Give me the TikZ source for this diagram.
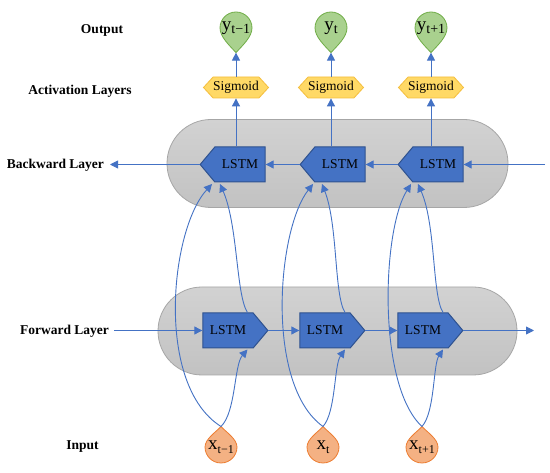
\documentclass[tikz,border=0pt]{standalone}
\usepackage{fontspec}
\setmainfont{Liberation Serif}
\usetikzlibrary{shapes.symbols,arrows.meta,calc}
\definecolor{lblue}{HTML}{4472C4}
\definecolor{dblue}{HTML}{2F528F}
\definecolor{pilltop}{HTML}{D2D2D2}
\definecolor{pillbot}{HTML}{C2C2C2}
\definecolor{pillline}{HTML}{A6A6A6}
\definecolor{sigfill}{HTML}{FFD966}
\definecolor{sigline}{HTML}{F5BE3C}
\definecolor{gfill}{HTML}{A9D18E}
\definecolor{gline}{HTML}{70AD47}
\definecolor{ofill}{HTML}{F4B183}
\definecolor{oline}{HTML}{ED7D31}
\tikzset{
  conn/.style={draw=lblue, line width=0.9pt, -{Triangle[length=8pt,width=8pt]}},
  pill/.style={draw=pillline, top color=pilltop, bottom color=pillbot, rounded corners=44pt,
    minimum width=#1, minimum height=88pt, inner sep=0pt, line width=0.8pt},
  lstmf/.style={signal, signal to=east, signal pointer angle=100, fill=lblue, draw=dblue,
    line width=1pt, minimum width=65pt, minimum height=35pt, inner sep=0pt,
    font=\fontsize{13.5}{14}\selectfont},
  lstmb/.style={lstmf, signal to=west},
  sigbox/.style={signal, signal to=east and west, signal pointer angle=95, fill=sigfill,
    draw=sigline, line width=0.8pt, minimum width=64pt, minimum height=21pt, inner sep=0pt,
    font=\fontsize{13.5}{14}\selectfont},
  lab/.style={font=\bfseries\fontsize{13.5}{14}\selectfont},
  outdrop/.style={fill=gfill, draw=gline, line width=0.8pt},
  indrop/.style={fill=ofill, draw=oline, line width=0.8pt},
  droptext/.style={inner sep=0pt},
}
\newcommand\myoutdrop[1]{\begin{scope}[shift={#1}]
  \path[outdrop] (0,24.6) .. controls (-6,18) and (-16,9) .. (-16,0)
   .. controls (-16,-8.84) and (-8.84,-16) .. (0,-16)
   .. controls (8.84,-16) and (16,-8.84) .. (16,0)
   .. controls (16,9) and (6,18) .. cycle;
  \end{scope}}
\newcommand\myindrop[1]{\begin{scope}[shift={#1}]
  \path[indrop] (0,-20.5) .. controls (-5,-15) and (-16,-8) .. (-16,0)
   .. controls (-16,8.84) and (-8.84,16) .. (0,16)
   .. controls (8.84,16) and (16,8.84) .. (16,0)
   .. controls (16,-8) and (5,-15) .. cycle;
  \end{scope}}
\newcommand\outtxt[1]{\fontsize{19}{19}\selectfont y\raisebox{-3pt}{\fontsize{14}{14}\selectfont #1}}
\newcommand\intxt[1]{\fontsize{19}{19}\selectfont x\raisebox{-4pt}{\fontsize{12}{12}\selectfont #1}}
\begin{document}
\begin{tikzpicture}[x=1pt,y=-1pt]
\useasboundingbox[fill=white] (0,0) rectangle (550,473);

% labels
\node[lab] (lout) at (102,30) {Output};
\node[lab] (lact) at (80,91) {Activation Layers};
\node[lab, anchor=east] (lbw) at (107.5,165) {Backward Layer};
\node[lab, anchor=east] (lfw) at (112.5,331) {Forward Layer};
\node[lab] (lin) at (82.5,447) {Input};

% layer pills
\node[pill=341pt] (bwpill) at (337.5,163.5) {};
\node[pill=359pt] (fwpill) at (337.5,331) {};

% LSTM cells (position = centre of the rectangular part)
\node[lstmb] (b1) at (240,164.5) {LSTM};
\node[lstmb] (b2) at (340,164.5) {LSTM};
\node[lstmb] (b3) at (438,164.5) {LSTM};
\node[lstmf] (f1) at (228,330.5) {LSTM};
\node[lstmf] (f2) at (325,330.5) {LSTM};
\node[lstmf] (f3) at (423,330.5) {LSTM};

% activations
\node[sigbox] (s1) at (236,87.5) {Sigmoid};
\node[sigbox] (s2) at (331,87.5) {Sigmoid};
\node[sigbox] (s3) at (431,87.5) {Sigmoid};

% outputs
\myoutdrop{(236,28)}
\myoutdrop{(331,28)}
\myoutdrop{(431,28)}
\node[droptext] (y1) at (236,28) {\outtxt{t−1}};
\node[droptext] (y2) at (331,28) {\outtxt{t}};
\node[droptext] (y3) at (431,28) {\outtxt{t+1}};
\coordinate (y1tip) at (236,52.6);
\coordinate (y2tip) at (331,52.6);
\coordinate (y3tip) at (431,52.6);

% inputs
\myindrop{(221,447)}
\myindrop{(323,447)}
\myindrop{(422,447)}
\node[droptext] (x1) at (221,447) {\intxt{t−1}};
\node[droptext] (x2) at (323,447) {\intxt{t}};
\node[droptext] (x3) at (422,447) {\intxt{t+1}};
\coordinate (x1tip) at (221,426.5);
\coordinate (x2tip) at (323,426.5);
\coordinate (x3tip) at (422,426.5);

% free ends
\coordinate (bin) at (545,164.5);
\coordinate (bout) at (110,164.5);
\coordinate (fin) at (114,330.5);
\coordinate (fout) at (534,330.5);

% backward chain
\draw[conn] (bin) -- (b3.east);
\draw[conn] (b3.west) -- (b2.east);
\draw[conn] (b2.west) -- (b1.east);
\draw[conn] (b1.west) -- (bout);
% forward chain
\draw[conn] (fin) -- (f1.west);
\draw[conn] (f1.east) -- (f2.west);
\draw[conn] (f2.east) -- (f3.west);
\draw[conn] (f3.east) -- (fout);

% up to activations and outputs
\draw[conn] (b1.north -| s1) -- (s1.south);
\draw[conn] (b2.north -| s2) -- (s2.south);
\draw[conn] (b3.north -| s3) -- (s3.south);
\draw[conn] (s1.north) -- (y1tip);
\draw[conn] (s2.north) -- (y2tip);
\draw[conn] (s3.north) -- (y3tip);

% column 1 curves
\draw[conn] (x1tip) .. controls (155,385) and (170,230) .. ($(b1.south)+(-28,1.5)$);
\draw[conn] (x1tip) .. controls (236,412) and (234,365) .. ($(f1.south)+(19.5,1)$);
\draw[conn] ($(f1.north)+(19.5,0)$) .. controls (236,295) and (238,225) .. ($(b1.south)+(-20,1.5)$);
% column 2 curves
\draw[conn] (x2tip) .. controls (265,385) and (277,230) .. ($(b2.south)+(-27,1.5)$);
\draw[conn] (x2tip) .. controls (336,412) and (334,365) .. ($(f2.south)+(20,1)$);
\draw[conn] ($(f2.north)+(20,0)$) .. controls (334,295) and (338,225) .. ($(b2.south)+(-18,1.5)$);
% column 3 curves
\draw[conn] (x3tip) .. controls (377,385) and (382,230) .. ($(b3.south)+(-27,1.5)$);
\draw[conn] (x3tip) .. controls (435,412) and (433,365) .. ($(f3.south)+(20,1)$);
\draw[conn] ($(f3.north)+(20,0)$) .. controls (432,295) and (436,225) .. ($(b3.south)+(-20,1.5)$);
\end{tikzpicture}
\end{document}
